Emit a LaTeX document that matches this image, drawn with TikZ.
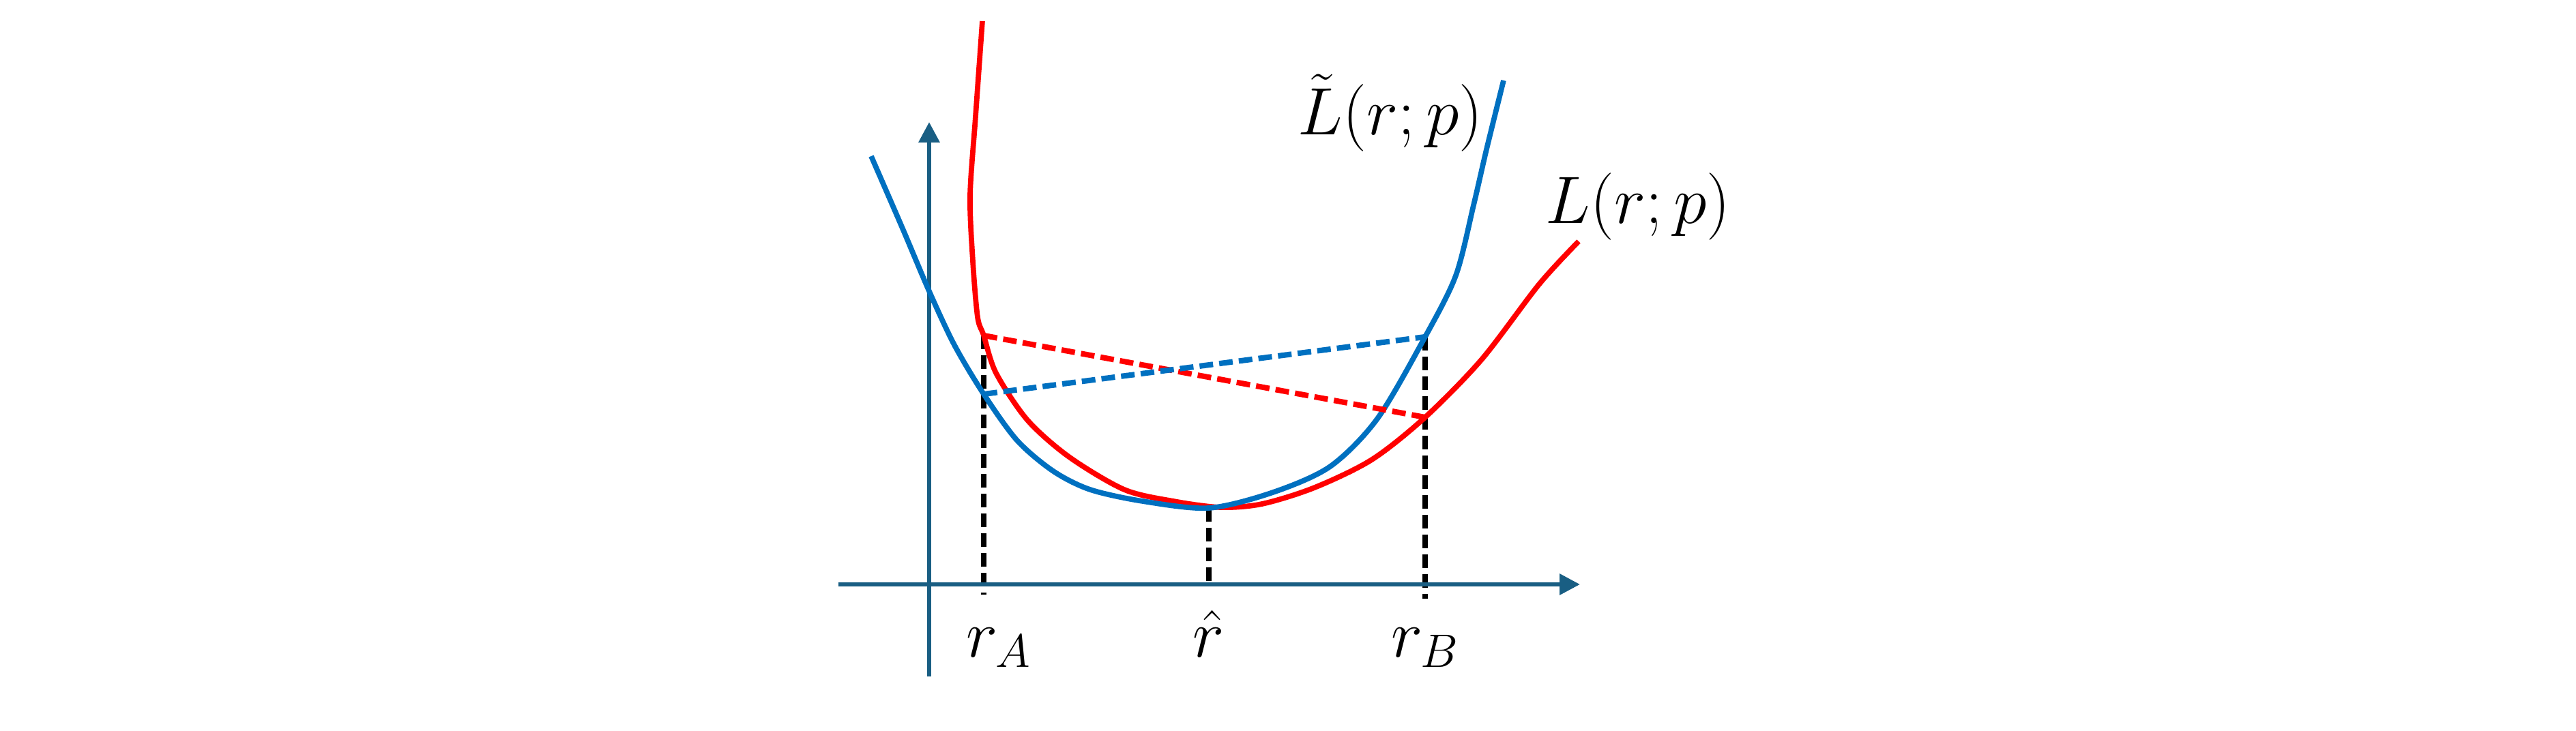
\RequirePackage{fix-cm}
\documentclass[tikz,border=0pt]{standalone}
\usetikzlibrary{arrows.meta}

\definecolor{axisBlue}{RGB}{25,94,131}
\definecolor{surrBlue}{RGB}{0,112,192}
\def\lossColor{red}
\def\surrColor{surrBlue}

\tikzset{
  axis/.style={axisBlue, line width=1.8pt, -{Triangle[length=0.3cm,width=0.3cm]}},
  curve/.style={line width=2.2pt},
  chord/.style={line width=2.3pt, dash pattern=on 0.2cm off 0.09cm},
}

\begin{document}
\begin{tikzpicture}[font=\fontsize{28}{34}\selectfont]
    \useasboundingbox (-13.62,-2.15) rectangle (24.14,8.57);

    % Define parameters
    \def\rA{0.80}
    \def\rhat{4.10}
    \def\rB{7.27}

    % points on the curves
    \coordinate (LA) at (\rA,3.65);
    \coordinate (LB) at (\rB,2.45);
    \coordinate (TA) at (\rA,2.79);
    \coordinate (TB) at (\rB,3.63);
    \coordinate (M) at (\rhat,1.12);
    \coordinate (xA) at (\rA,-0.15);
    \coordinate (xB) at (\rB,-0.21);
    \coordinate (xM) at (\rhat,0);

    % drop lines
    \draw[chord, black] (LA) -- (xA);
    \draw[chord, black] (TB) -- (xB);
    \draw[chord, black] (M) -- (xM);

    % Axes
    \draw[axis] (-1.33,0) -- (9.54,0);
    \draw[axis] (0,-1.35) -- (0,6.78);

    % L(r;p)
    \draw[curve, \lossColor] plot [smooth, tension=0.5] coordinates {(0.78,8.26) (0.68,6.86) (0.60,5.70) (0.64,4.74) (0.71,3.92) (0.80,3.65) (0.98,3.10) (1.44,2.41) (2.05,1.87) (2.86,1.39) (3.58,1.22) (4.27,1.13) (4.88,1.18) (5.65,1.42) (6.49,1.83) (7.27,2.45) (8.10,3.30) (8.94,4.40) (9.52,5.03)};
    % tilde L(r;p)
    \draw[curve, \surrColor] plot [smooth, tension=0.5] coordinates {(-0.85,6.28) (-0.39,5.22) (0.00,4.30) (0.37,3.51) (0.80,2.79) (1.29,2.11) (1.82,1.66) (2.36,1.39) (3.13,1.22) (4.10,1.12) (5.04,1.35) (5.88,1.73) (6.57,2.43) (7.27,3.63) (7.72,4.53) (7.98,5.56) (8.17,6.38) (8.42,7.39)};

    % chords
    \draw[chord, \lossColor] (LA) -- (LB);
    \draw[chord, \surrColor] (TA) -- (TB);

    % labels
    \node (labA) at (1.02,-1.07) [anchor=base] {$r_A$};
    \node (labM) at (\rhat,-1.07) [anchor=base] {$\hat{r}$};
    \node (labB) at (7.27,-1.07) [anchor=base] {$r_B$};
    \node (labT) at (6.76,6.59) [anchor=base] {$\tilde{L}(r;p)$};
    \node (labL) at (10.39,5.29) [anchor=base] {$L(r;p)$};

\end{tikzpicture}
\end{document}
